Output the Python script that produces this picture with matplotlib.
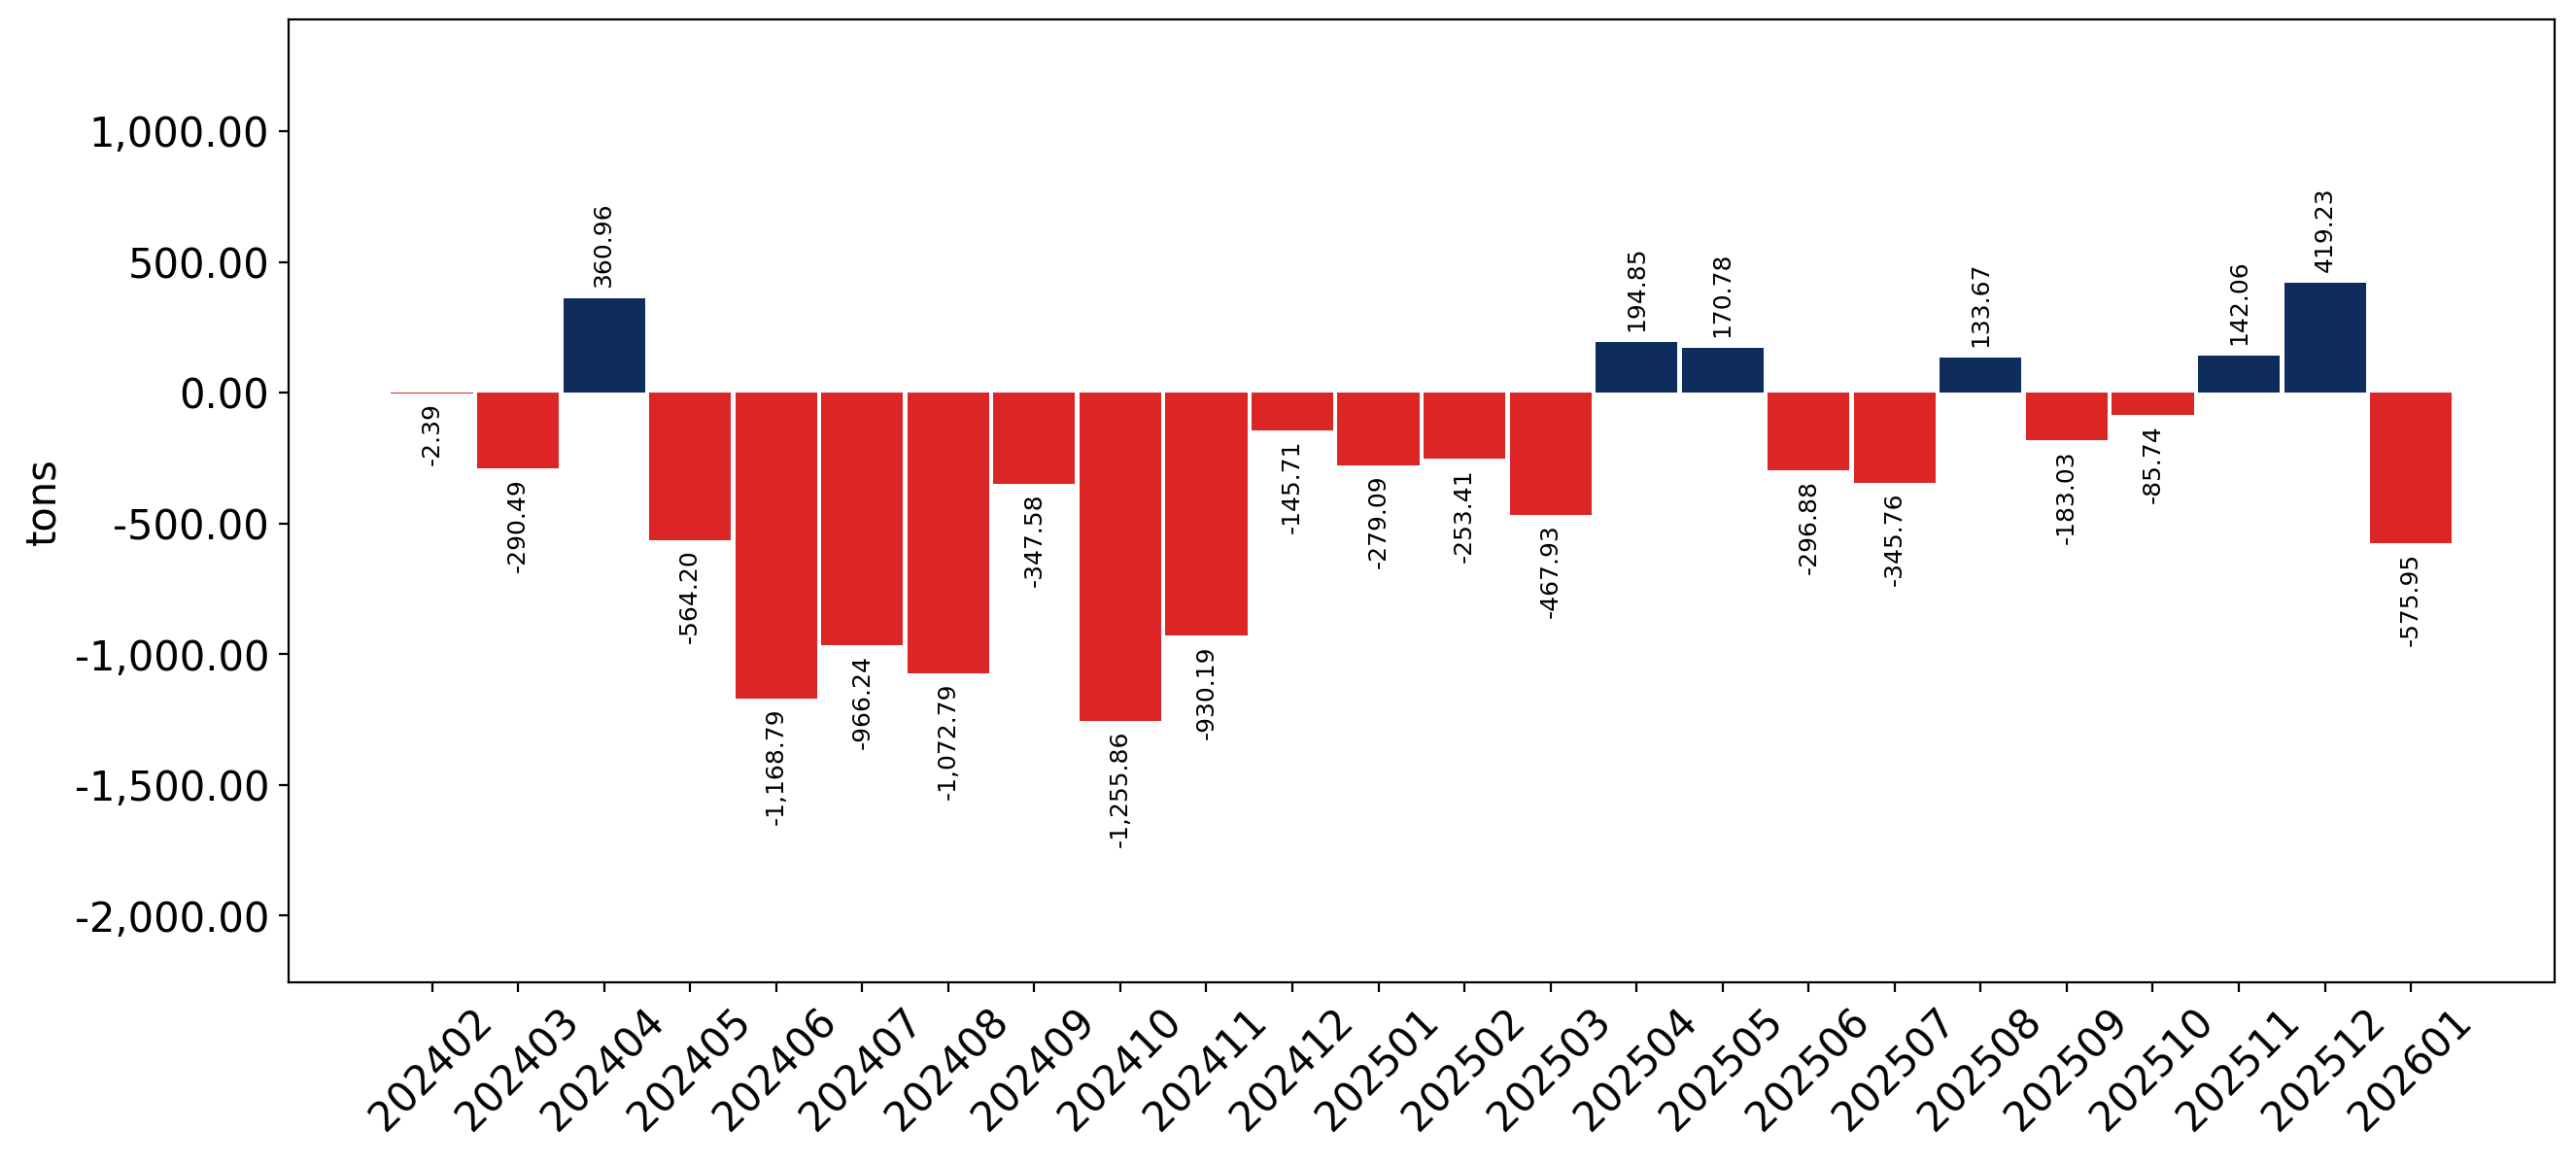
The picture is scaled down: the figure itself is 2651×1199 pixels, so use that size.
import matplotlib.pyplot as plt
from matplotlib.ticker import StrMethodFormatter

# monthly change, tons
months = ['202402', '202403', '202404', '202405', '202406', '202407', '202408', '202409',
          '202410', '202411', '202412', '202501', '202502', '202503', '202504', '202505',
          '202506', '202507', '202508', '202509', '202510', '202511', '202512', '202601']
values = [-2.39, -290.49, 360.96, -564.20, -1168.79, -966.24, -1072.79, -347.58,
          -1255.86, -930.19, -145.71, -279.09, -253.41, -467.93, 194.85, 170.78,
          -296.88, -345.76, 133.67, -183.03, -85.74, 142.06, 419.23, -575.95]

pos_color = '#0f2d5c'
neg_color = '#dc2626'

plt.rcParams['axes.unicode_minus'] = False

fig = plt.figure(figsize=(13.255, 5.995), dpi=200)
ax = fig.add_axes([0.1119, 0.157, 0.8798, 0.826])

x = list(range(len(months)))
colors = [pos_color if v >= 0 else neg_color for v in values]
ax.bar(x, values, width=0.95, color=colors)

for xi, v in zip(x, values):
    if v >= 0:
        ax.annotate(f'{v:,.2f}', (xi, v), xytext=(0, 4), textcoords='offset points',
                    rotation=90, ha='center', va='bottom', fontsize=9)
    else:
        ax.annotate(f'{v:,.2f}', (xi, v), xytext=(0, -3.5), textcoords='offset points',
                    rotation=90, ha='center', va='top', fontsize=9)

ax.set_xticks(x)
ax.set_xticklabels(months, rotation=45, fontsize=15)
ax.yaxis.set_major_formatter(StrMethodFormatter('{x:,.2f}'))
ax.tick_params(axis='y', labelsize=15)
ax.set_yticks([-2000, -1500, -1000, -500, 0, 500, 1000])
ax.set_ylabel('tons', fontsize=15)
ax.set_xlim(-1.67, len(months) - 1 + 1.67)
ax.set_ylim(-2255, 1426)

fig.savefig('out.png', dpi=200)
